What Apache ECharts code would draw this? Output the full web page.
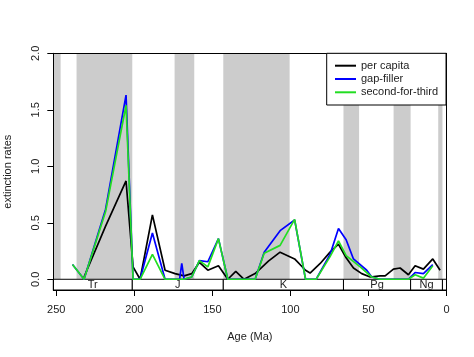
<!DOCTYPE html>
<html><head><meta charset="utf-8">
<script src="https://cdn.jsdelivr.net/npm/echarts@6/dist/echarts.min.js"></script>
<style>html,body{margin:0;padding:0;background:#fff}#c{width:474px;height:357px}</style>
</head><body><div id="c"></div>
<script>
// Ages (Ma) of the rate estimates
const ages = [239.6, 232.2, 218.4, 205.3, 200.8, 196.3, 188.4, 180.3, 173.9, 171.0, 169.6, 168.1, 163.2, 158.3, 152.9, 146.1, 140.1, 135.0, 129.7, 122.6, 116.8, 114.1, 106.6, 97.3, 90.3, 87.4, 83.5, 80.9, 74.6, 69.2, 64.3, 59.6, 55.3, 54.3, 51.1, 48.9, 47.9, 42.5, 39.3, 34.0, 29.7, 24.4, 20.1, 14.8, 8.8, 4.1];
const perCapita = [null, 0.02, 0.47, 0.87, 0.11, 0, 0.57, 0.08, 0.05, null, null, 0.03, 0.05, 0.15, 0.08, 0.12, 0, 0.07, 0, 0.05, null, 0.16, 0.24, 0.18, 0.08, 0.055, null, 0.14, 0.24, 0.31, 0.19, 0.10, null, 0.05, null, 0.02, null, 0.03, 0.03, 0.09, 0.10, 0.04, 0.12, 0.09, 0.18, 0.08];
const gapFiller = [0.13, 0, 0.62, 1.63, 0, 0, 0.41, 0, 0, 0, 0.14, 0, 0.02, 0.165, 0.155, 0.36, 0, 0, 0, 0, 0.24, null, 0.43, 0.525, 0, null, 0, null, 0.22, 0.45, 0.35, 0.18, null, null, 0.08, null, 0.02, 0, null, null, null, 0, 0.06, 0.05, 0.13, null];
const secondForThird = [0.13, 0, 0.60, 1.54, 0, 0, 0.22, 0, 0, 0, 0, 0, 0.02, 0.165, 0.11, 0.36, 0, 0, 0, 0, 0.23, null, 0.30, 0.53, 0, null, 0, null, 0.20, 0.34, 0.21, null, 0.11, null, null, null, 0.02, 0, null, null, null, 0, 0.04, 0.01, 0.12, null];
// Shaded epochs [older, younger]
const grayBands = [[251.9, 247.2], [237, 201.3], [174.2, 161.6], [143, 100.5], [66, 56], [33.9, 23.0], [5.3, 2.6]];
// Period boxes of the time scale
const periodBounds = [251.9, 201.3, 143, 66, 23, 2.6, 0];
const periodNames = ['Tr', 'J', 'K', 'Pg', 'Ng', ''];
const xTicks = [0, 50, 100, 150, 200, 250];
const yTicks = [0, 0.5, 1, 1.5, 2];
const seriesNames = ['per capita', 'gap-filler', 'second-for-third'];
const seriesColors = ['#000000', '#0000ff', '#22dd22'];

const FONT = '"Liberation Sans", Arial, Helvetica, sans-serif';
const TXT = '#222';
const YMIN = -0.095, YMAX = 2;

function pairs(v) { return ages.map((a, i) => [a, v[i]]); }

const bandData = grayBands.map(b => [{xAxis: b[0], yAxis: 0}, {xAxis: b[1], yAxis: YMAX}]);
const periodData = periodNames.map((n, i) => [
  {name: n, xAxis: periodBounds[i], yAxis: YMIN},
  {xAxis: periodBounds[i + 1], yAxis: 0}
]);

const chart = echarts.init(document.getElementById('c'), null, {renderer: 'canvas'});
const valueSeries = [perCapita, gapFiller, secondForThird].map((v, i) => ({
  name: seriesNames[i], type: 'line', data: pairs(v), symbol: 'none', showSymbol: false,
  connectNulls: true, z: 3, color: seriesColors[i],
  lineStyle: {color: seriesColors[i], width: 1.7}, itemStyle: {color: seriesColors[i]}
}));

chart.setOption({
  animation: false,
  backgroundColor: '#fff',
  textStyle: {fontFamily: FONT},
  grid: {left: 53.3, right: 27.5, top: 53.3, bottom: 67, outerBoundsMode: 'none', containLabel: false},
  xAxis: [{
    type: 'value', inverse: true, min: 0, max: 251.9, z: 10,
    axisLine: {show: true, onZero: false, lineStyle: {color: '#000', width: 1}},
    axisTick: {show: true, inside: false, length: 6, customValues: xTicks, lineStyle: {color: '#000'}},
    axisLabel: {customValues: xTicks, margin: 14, fontSize: 11, color: TXT, fontFamily: FONT},
    splitLine: {show: false},
    name: 'Age (Ma)', nameLocation: 'middle', nameGap: 41,
    nameTextStyle: {fontSize: 11, color: TXT, fontFamily: FONT}
  }, {
    type: 'value', inverse: true, min: 0, max: 251.9, position: 'top', z: 10,
    axisLine: {show: true, onZero: false, lineStyle: {color: '#000', width: 1}},
    axisTick: {show: false}, axisLabel: {show: false}, splitLine: {show: false}
  }],
  yAxis: [{
    type: 'value', min: YMIN, max: YMAX, z: 10,
    axisLine: {show: true, onZero: false, lineStyle: {color: '#000', width: 1}},
    axisTick: {show: true, inside: false, length: 6, customValues: yTicks, lineStyle: {color: '#000'}},
    axisLabel: {customValues: yTicks, rotate: 90, margin: 12, fontSize: 11, color: TXT, fontFamily: FONT,
      formatter: v => Number(v).toFixed(1)},
    splitLine: {show: false},
    name: 'extinction rates', nameLocation: 'middle', nameGap: 40, nameRotate: 90,
    nameTextStyle: {fontSize: 11, color: TXT, fontFamily: FONT}
  }, {
    type: 'value', min: YMIN, max: YMAX, position: 'right', z: 10,
    axisLine: {show: true, onZero: false, lineStyle: {color: '#000', width: 1}},
    axisTick: {show: false}, axisLabel: {show: false}, splitLine: {show: false}
  }],
  legend: {
    data: seriesNames.map(n => ({name: n, icon: 'rect'})), orient: 'vertical', left: 326.7, top: 53.3, z: 20,
    itemWidth: 21, itemHeight: 2, itemGap: 0,
    padding: [5.75, 8, 6.05, 8.3],
    backgroundColor: '#fff', borderColor: '#000', borderWidth: 1, borderRadius: 0,
    textStyle: {fontSize: 11, color: TXT, fontFamily: FONT, lineHeight: 13.3}
  },
  series: [{
    name: 'bands', type: 'line', data: [], z: 1, silent: true,
    markArea: {silent: true, itemStyle: {color: '#cccccc', borderWidth: 0}, label: {show: false}, data: bandData}
  }, {
    name: 'periods', type: 'line', data: [], z: 2, silent: true,
    markArea: {
      silent: true,
      itemStyle: {color: '#ffffff', borderColor: '#000', borderWidth: 1},
      label: {show: true, position: 'inside', fontSize: 11, color: TXT, fontFamily: FONT},
      data: periodData
    }
  }].concat(valueSeries)
});
</script>
</body></html>
